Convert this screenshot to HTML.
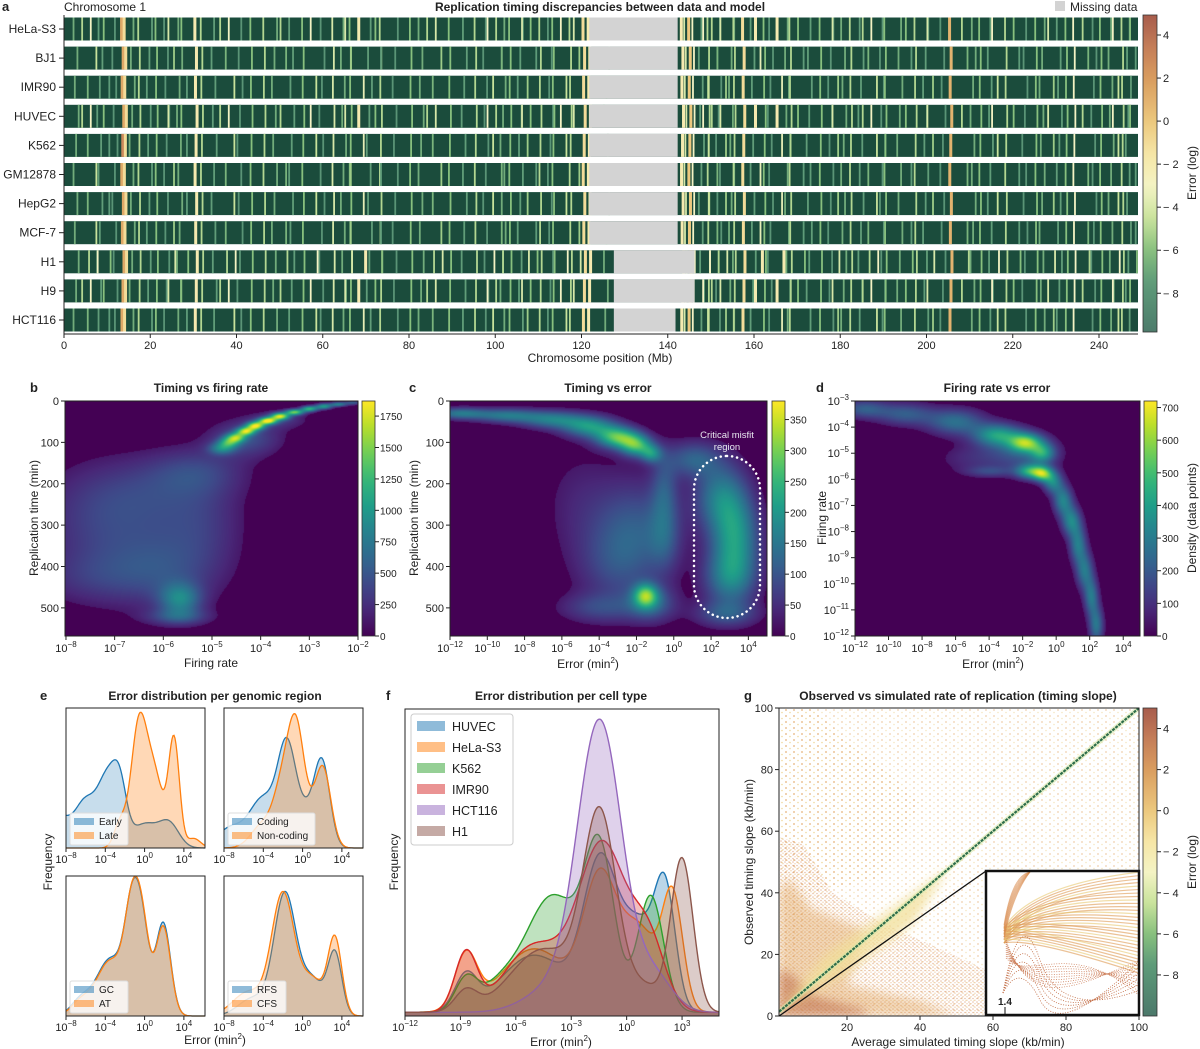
<!DOCTYPE html>
<html><head><meta charset="utf-8">
<style>
html,body{margin:0;padding:0;background:#fff;}
#wrap{position:relative;width:1200px;height:1049px;overflow:hidden;font-family:"Liberation Sans",Arial,sans-serif;}
canvas{position:absolute;z-index:0;}
#fig{position:absolute;left:0;top:0;z-index:1;}
text{font-family:"Liberation Sans",Arial,sans-serif;fill:#222;}
</style></head>
<body>
<div id="wrap">
<canvas id="hb" style="left:65px;top:401px" width="293" height="235"></canvas>
<canvas id="hc" style="left:450px;top:401px" width="317" height="235"></canvas>
<canvas id="hd" style="left:855px;top:401px" width="285" height="235"></canvas>
<svg id="fig" width="1200" height="1049" xmlns="http://www.w3.org/2000/svg"><defs id="defs"></defs></svg>
</div>
<script>
// ---------- DATA ----------
const rowNames=["HeLa-S3","BJ1","IMR90","HUVEC","K562","GM12878","HepG2","MCF-7","H1","H9","HCT116"];
const missingStart=[121.8,121.8,121.8,121.8,121.8,121.8,121.8,121.8,127.5,127.5,127.5];
const missingEnd=[142.3,142.3,142.3,142.3,142.3,142.3,142.3,142.3,146.2,146.2,141.8];
const hotspotMb=[13,13.6,17,21,30,31.5,43,46,55,62,66,73,80,89,95,103,110,113,117,120,121.2,142.8,143.6,144.5,145.5,149,155,157,162,168,175,182,190,197,205,212,218,225,232,233.8,240,245];
const hotspotErr=[1.5,-1,-5,-6,-2,-5,-6,-5,-6,-4,-6,-5,-6,-6,-5,-6,-5,-6,-5,-1,-2,-2,-4,0,-3,-5,-5,-1,-6,-5,-6,-5,-6,-5,1,-6,-5,-6,-6,-3,-6,-5];
const busyMb=[4,6,9,24,27,36,38,50,57,65,68,72,84,86,98,100,106,108,115,118,148,150,152,160,165,170,178,185,187,195,200,208,215,220,228,236,243,247];
const busyErr=[-5,-3,-6,-4,-6,-5,-3,-5,-3,-4,-2,-6,-5,-4,-3,-5,-4,-6,-3,-4,-3,-5,-4,-2,-2,-6,-4,-5,-3,-6,-4,-5,-3,-6,-4,-5,-3,-6];
const faintMb=[2,7.5,11,15,19,23,26,34,40,48,52,59,64,70,76,82,92,97,101,105,112,125,147,151,154,159,163,167,172,177,180,184,189,193,199,203,210,214,222,226,230,238,242,246];
const busyRows=[0,3,8,9];

const bTicksX=[-8,-7,-6,-5,-4,-3,-2];
const timeTicks=[0,100,200,300,400,500];
const bCbTicks=[0,250,500,750,1000,1250,1500,1750];
// blobs: [x(log), y, sx, sy, amp]
const bBlobs=[[-2.1,4,0.12,4,0.3],[-2.4,8,0.12,4,0.45],[-2.7,13,0.12,5,0.55],[-3,19,0.12,5,0.65],[-3.3,27,0.13,5,0.75],[-3.6,37,0.13,6,0.85],[-3.85,48,0.13,6,0.9],[-4.1,60,0.13,7,0.85],[-4.3,73,0.13,7,0.75],[-4.5,88,0.14,8,0.6],[-4.65,100,0.15,9,0.45],[-4.8,115,0.18,10,0.35],[-4.3,90,0.5,30,0.25],[-3.6,45,0.4,15,0.15],[-5.3,170,0.7,40,0.17],[-6.3,220,1,60,0.14],[-7.4,280,0.9,90,0.12],[-6.5,350,1.1,80,0.12],[-7.5,430,0.8,45,0.11],[-6,420,0.8,60,0.16],[-5.65,480,0.3,28,0.4],[-5.7,522,0.45,14,0.22],[-5.2,300,0.6,80,0.12]];
const cTicksX=[-12,-10,-8,-6,-4,-2,0,2,4];
const cCbTicks=[0,50,100,150,200,250,300,350];
const cBlobs=[[-11.5,30,1,10,0.4],[-9,35,1.2,12,0.4],[-6.5,45,1.2,15,0.42],[-4.5,62,1,18,0.5],[-3,88,0.8,18,0.7],[-2,108,0.6,18,0.62],[-1.2,128,0.4,15,0.4],[-0.5,210,0.5,60,0.22],[-0.5,330,0.6,60,0.2],[1,140,1,30,0.3],[2.5,230,1,60,0.4],[3.3,330,0.9,70,0.5],[3.0,430,1,50,0.38],[2.8,515,1.2,22,0.25],[-1.5,470,0.45,20,0.6],[-1.2,490,0.9,30,0.3],[-4,500,1.5,25,0.2],[-3,400,1.5,70,0.2],[-5,250,1.5,100,0.1],[-2,300,1.5,80,0.25]];
const dTicksY=[-3,-4,-5,-6,-7,-8,-9,-10,-11,-12];
const dCbTicks=[0,100,200,300,400,500,600,700];
const dBlobs=[[-11.5,-3.3,1,0.25,0.3],[-9,-3.5,1.2,0.3,0.3],[-6,-3.8,1.2,0.35,0.38],[-3.5,-4.3,1,0.3,0.55],[-1.8,-4.6,0.7,0.25,0.7],[-0.8,-5,0.5,0.25,0.45],[-4,-5.7,1,0.15,0.18],[-1.5,-5.7,0.6,0.2,0.6],[-0.8,-5.8,0.4,0.2,0.6],[-0.2,-6.1,0.4,0.3,0.45],[0.4,-6.8,0.4,0.4,0.45],[0.9,-7.6,0.4,0.4,0.45],[1.3,-8.5,0.35,0.5,0.42],[1.7,-9.5,0.35,0.5,0.4],[2.1,-10.5,0.3,0.5,0.4],[2.4,-11.6,0.3,0.5,0.4],[-2,-5,1.5,0.5,0.25],[-5,-5.2,1.5,0.4,0.12]];

const eLabels=[["Early","Late"],["Coding","Non-coding"],["GC","AT"],["RFS","CFS"]];
const eEarly=[[-9,1.5,0.5],[-6,1,0.6],[-3.8,1,1],[-2.5,0.7,0.7],[0,1.3,0.35],[2.5,1,0.35]];
const eLate=[[-0.6,0.8,1],[1.0,0.9,0.6],[3.0,0.55,0.9],[5,0.7,0.08],[-2.5,0.6,0.2]];
const eCoding=[[-1.6,0.9,1],[-4,1.5,0.55],[-7.5,1.2,0.2],[2,0.8,0.9],[0.3,1,0.35]];
const eNonCoding=[[-0.7,0.8,1],[-2,0.9,0.6],[-4,1.2,0.25],[2.1,0.8,0.8],[0.3,1,0.3]];
const eGC=[[-1.2,0.8,1],[-0.1,0.7,0.6],[1.9,0.75,0.9],[-3.5,1.4,0.55],[-6.5,1,0.15]];
const eAT=[[-1.2,0.8,1],[-0.1,0.7,0.62],[1.9,0.75,0.86],[-3.5,1.4,0.53],[-6.5,1,0.13]];
const eRFS=[[-1.8,1.1,1],[3.3,0.7,0.5],[1.0,1.2,0.3],[-5,1.5,0.15]];
const eCFS=[[-2.0,1.15,1],[3.3,0.7,0.62],[1.0,1.2,0.3],[-5.5,1.6,0.2]];
const ePeaks=[[0.63,0.97],[0.79,0.96],[0.99,1.0],[0.89,0.89]];
const eTicks=[-8,-4,0,4];

const fNames=["HUVEC","HeLa-S3","K562","IMR90","HCT116","H1"];
const fHUVEC=[[-8.7,0.6,0.18],[-5,1.8,0.3],[-1.45,0.9,0.75],[0.7,1,0.45],[2.1,0.55,0.55]];
const fHeLa=[[-8.7,0.6,0.3],[-5,1.8,0.35],[-1.45,0.9,0.7],[0.7,1,0.45],[2.5,0.55,0.6]];
const fK562=[[-8.7,0.6,0.15],[-4,1.5,0.55],[-1.45,0.8,0.7],[1.3,0.7,0.55],[-7,1,0.1]];
const fIMR90=[[-8.7,0.6,0.35],[-5,1.6,0.4],[-1.3,1.3,1],[1.2,0.9,0.4]];
const fHCT116=[[-1.45,1.2,1],[-4,1.5,0.08],[1.5,1,0.12]];
const fH1=[[-1.45,0.9,0.75],[-4.5,1.8,0.25],[-8.7,0.6,0.08],[3.0,0.6,0.6],[1,1,0.1]];
const fPeaks=[0.52,0.47,0.58,0.56,0.955,0.67];
const fTicks=[-12,-9,-6,-3,0,3];

const gTicks=[20,40,60,80,100];
const gYTicks=[0,20,40,60,80,100];
const gDiagX=[1.4,10,20,30,40,50,60,70,80,90,100];
const errCbTicks=[4,2,0,-2,-4,-6,-8];

// ---------- HELPERS ----------
const NS='http://www.w3.org/2000/svg';
const svg=document.getElementById('fig');
const defs=document.getElementById('defs');
function mk(tag,attrs,parent){const e=document.createElementNS(NS,tag);for(const k in attrs)e.setAttribute(k,attrs[k]);(parent||svg).appendChild(e);return e;}
function txt(x,y,s,attrs,parent){const e=mk('text',Object.assign({x:x,y:y,'font-size':11},attrs||{}),parent);e.textContent=s;return e;}
function pow10(x,y,ex,anchor,parent){const e=mk('text',{x:x,y:y,'font-size':11,'text-anchor':anchor||'middle'},parent);e.appendChild(document.createTextNode('10'));const t=mk('tspan',{dy:-5,'font-size':8},e);t.textContent=(ex<0?'\u2212':'')+Math.abs(ex);return e;}
function hex(c){return [parseInt(c.slice(1,3),16),parseInt(c.slice(3,5),16),parseInt(c.slice(5,7),16)];}
const VIR=["#440154","#482878","#3e4989","#31688e","#26828e","#1f9e89","#35b779","#6ece58","#b5de2b","#fde725"].map(hex);
function viridis(t){t=Math.max(0,Math.min(1,t));const p=t*(VIR.length-1);const i=Math.min(VIR.length-2,Math.floor(p));const f=p-i;return VIR[i].map((v,k)=>Math.round(v+(VIR[i+1][k]-v)*f));}
const ERRV=[5,3.5,2,0,-1.5,-3,-4.5,-6,-7.5,-10];
const ERRC=["#a85c4c","#c47d58","#d99d5f","#ecc87e","#f6e6a6","#f4f3c4","#c9e39c","#88c07e","#5e9b79","#4b786a"].map(hex);
function errColor(v){v=Math.max(-10,Math.min(5,v));for(let i=0;i<ERRV.length-1;i++){if(v<=ERRV[i]&&v>=ERRV[i+1]){const f=(ERRV[i]-v)/(ERRV[i]-ERRV[i+1]);const c=ERRC[i].map((a,k)=>Math.round(a+(ERRC[i+1][k]-a)*f));return 'rgb('+c.join(',')+')';}}return 'rgb(75,120,106)';}
function grad(id,colorFn,n){const g=mk('linearGradient',{id:id,x1:0,y1:1,x2:0,y2:0},defs);for(let i=0;i<=n;i++){mk('stop',{offset:i/n,'stop-color':colorFn(i/n)},g);}}
function kde(x,comps){let s=0;for(const c of comps)s+=c[2]*Math.exp(-0.5*Math.pow((x-c[0])/c[1],2));return s;}
function kdeMax(comps,a,b){let m=0;for(let v=a;v<=b;v+=0.02)m=Math.max(m,kde(v,comps));return m;}

grad('gvir',t=>'rgb('+viridis(t).join(',')+')',20);
grad('gerrA',t=>errColor(-9.8+t*14.8),30);
grad('gerrG',t=>errColor(-10+t*15),30);

// ---------- PANEL A ----------
const gA=mk('g',{});


const aX=mb=>64+mb*4.3125;
txt(2,11,'a',{'font-weight':'bold','font-size':13},gA);
txt(64,11,'Chromosome 1',{'font-size':12},gA);
txt(600,11,'Replication timing discrepancies between data and model',{'font-weight':'bold','font-size':12,'text-anchor':'middle'},gA);
const ml=mk('rect',{x:1055,y:1,width:10,height:10,fill:'#d3d3d3'},gA);


txt(1070,11,'Missing data',{'font-size':12},gA);
rowNames.forEach((name,i)=>{
  const cy=29+i*29.1;
  const rg=mk('g',{},gA);
  
  
  mk('rect',{x:64,y:cy-11.5,width:1074,height:23,fill:'#1b4c3c'},rg);
  const spots=[];
  faintMb.forEach((m,k)=>spots.push([m+((i*0.9+k*0.3)%1.5),-6.8-(k%3)*0.6]));
  hotspotMb.forEach((m,k)=>spots.push([m+((i*0.37)%0.6),hotspotErr[k]+(i===4&&k===0?1.5:0)]));
  if(busyRows.includes(i)) busyMb.forEach((m,k)=>spots.push([m+(i%3)*0.8,busyErr[k]]));
  else busyMb.forEach((m,k)=>{if(k%2===i%2)spots.push([m+1.3,busyErr[k]-1.5]);});
  spots.forEach(s=>{
    const r=mk('rect',{x:aX(s[0]),y:cy-11.5,width:s[1]>-3?3:1.8,height:23,fill:errColor(s[1])},rg);
    
    
  });
  const gm=mk('rect',{x:aX(missingStart[i]),y:cy-11.5,width:aX(missingEnd[i])-aX(missingStart[i]),height:23,fill:'#d3d3d3'},rg);
  
  
  mk('line',{x1:59,x2:64,y1:cy,y2:cy,stroke:'#222'},gA);
  const lb=txt(56,cy+4,name,{'text-anchor':'end','font-size':12},gA);
  
  
});
mk('line',{x1:64,x2:64,y1:15,y2:334,stroke:'#222'},gA);
mk('line',{x1:64,x2:1138,y1:334,y2:334,stroke:'#222'},gA);
for(let mb=0;mb<=240;mb+=20){mk('line',{x1:aX(mb),x2:aX(mb),y1:334,y2:338,stroke:'#222'},gA);const t=txt(aX(mb),349,String(mb),{'text-anchor':'middle'},gA);}
txt(600,362,'Chromosome position (Mb)',{'text-anchor':'middle','font-size':12},gA);
function errColorbar(x,y0,y1,gid,parent,name,top,bot){
  const cb=mk('rect',{x:x,y:y0,width:14,height:y1-y0,fill:'url(#'+gid+')',stroke:'#333','stroke-width':0.8},parent);
  
  
  const sc=(y1-y0)/(top-bot);
  errCbTicks.forEach(v=>{const yy=y0+(top-v)*sc;mk('line',{x1:x+14,x2:x+18,y1:yy,y2:yy,stroke:'#222'},parent);txt(x+20,yy+4,(v<0?'\u2212 ':'')+Math.abs(v),{},parent);});
}
errColorbar(1143,15,332,'gerrA',gA,'error-colorbar',4.93,-9.8);
txt(0,0,'Error (log)',{'font-size':12,'text-anchor':'middle',transform:'translate(1196,173) rotate(-90)'},gA);

// ---------- HEATMAPS ----------
function heat(id,blobs,xmin,xmax,ymin,ymax){
  const cv=document.getElementById(id),ctx=cv.getContext('2d');const W=cv.width,H=cv.height;
  const img=ctx.createImageData(W,H);
  for(let py=0;py<H;py++){const dy=ymin+(ymax-ymin)*(py+0.5)/H;
    for(let px=0;px<W;px++){const dx=xmin+(xmax-xmin)*(px+0.5)/W;let s=0;
      for(const b of blobs){const u=(dx-b[0])/b[2],v=(dy-b[1])/b[3];const q=u*u+v*v;if(q<18)s+=b[4]*Math.exp(-0.5*q);}
      let t=s<0.07?0:Math.min(1,s*0.95);const c=viridis(t);const o=(py*W+px)*4;img.data[o]=c[0];img.data[o+1]=c[1];img.data[o+2]=c[2];img.data[o+3]=255;}}
  ctx.putImageData(img,0,0);
}
heat('hb',bBlobs,-8.02,-2,0,568);
heat('hc',cBlobs,-12,5,0,568);
heat('hd',dBlobs,-12,5,-3,-12);

function frame(x,y,w,h,parent,name){const r=mk('rect',{x:x,y:y,width:w,height:h,fill:'none',stroke:'#222','stroke-width':1},parent);return r;}
function vcb(x,y0,y1,max,ticks,parent,name){
  const r=mk('rect',{x:x,y:y0,width:13,height:y1-y0,fill:'url(#gvir)',stroke:'#333','stroke-width':0.8},parent);
  
  
  ticks.forEach(v=>{const yy=y1-(v/max)*(y1-y0);mk('line',{x1:x+13,x2:x+17,y1:yy,y2:yy,stroke:'#222'},parent);txt(x+18,yy+4,String(v),{'font-size':10},parent);});
}
// panel b
const gB=mk('g',{});


const bx=v=>65+(v+8.02)/6.02*293, ty=v=>401+v/568*235;
txt(30,392,'b',{'font-weight':'bold','font-size':13},gB);
txt(211,392,'Timing vs firing rate',{'font-weight':'bold','font-size':12,'text-anchor':'middle'},gB);
frame(65,401,293,235,gB,'plot-area-b');
bTicksX.forEach(v=>{mk('line',{x1:bx(v),x2:bx(v),y1:636,y2:640,stroke:'#222'},gB);pow10(bx(v),652,v,'middle',gB);});
timeTicks.forEach(v=>{mk('line',{x1:61,x2:65,y1:ty(v),y2:ty(v),stroke:'#222'},gB);txt(59,ty(v)+4,String(v),{'text-anchor':'end'},gB);});
txt(211,667,'Firing rate',{'text-anchor':'middle','font-size':12},gB);
txt(0,0,'Replication time (min)',{'font-size':12,'text-anchor':'middle',transform:'translate(38,518) rotate(-90)'},gB);
vcb(362,401,636,1870,bCbTicks,gB,'density-colorbar-b');
// panel c
const gC=mk('g',{});


const cx=v=>450+(v+12)/17*317;
txt(409,392,'c',{'font-weight':'bold','font-size':13},gC);
txt(608,392,'Timing vs error',{'font-weight':'bold','font-size':12,'text-anchor':'middle'},gC);
frame(450,401,317,235,gC,'plot-area-c');
cTicksX.forEach(v=>{mk('line',{x1:cx(v),x2:cx(v),y1:636,y2:640,stroke:'#222'},gC);pow10(cx(v),652,v,'middle',gC);});
timeTicks.forEach(v=>{mk('line',{x1:446,x2:450,y1:ty(v),y2:ty(v),stroke:'#222'},gC);txt(444,ty(v)+4,String(v),{'text-anchor':'end'},gC);});
const cxl=txt(588,668,'Error (min',{'text-anchor':'middle','font-size':12},gC);const cs=mk('tspan',{dy:-5,'font-size':8},cxl);cs.textContent='2';const cs2=mk('tspan',{dy:5},cxl);cs2.textContent=')';
txt(0,0,'Replication time (min)',{'font-size':12,'text-anchor':'middle',transform:'translate(418,518) rotate(-90)'},gC);
const crit=mk('rect',{x:694,y:456,width:66,height:162,rx:33,ry:33,fill:'none',stroke:'#fff','stroke-width':2.5,'stroke-dasharray':'0.1 5','stroke-linecap':'round'},gC);


txt(727,438,'Critical misfit',{'text-anchor':'middle','font-size':9.5,style:'fill:#e8e8f0'},gC);
txt(727,450,'region',{'text-anchor':'middle','font-size':9.5,style:'fill:#e8e8f0'},gC);
vcb(772,401,636,380,cCbTicks,gC,'density-colorbar-c');
// panel d
const gD=mk('g',{});


const dx=v=>855+(v+12)/17*285, dy=v=>401+(-3-v)/9*235;
txt(816,392,'d',{'font-weight':'bold','font-size':13},gD);
txt(997,392,'Firing rate vs error',{'font-weight':'bold','font-size':12,'text-anchor':'middle'},gD);
frame(855,401,285,235,gD,'plot-area-d');
cTicksX.forEach(v=>{mk('line',{x1:dx(v),x2:dx(v),y1:636,y2:640,stroke:'#222'},gD);pow10(dx(v),652,v,'middle',gD);});
dTicksY.forEach(v=>{mk('line',{x1:851,x2:855,y1:dy(v),y2:dy(v),stroke:'#222'},gD);pow10(849,dy(v)+4,v,'end',gD);});
const dxl=txt(993,668,'Error (min',{'text-anchor':'middle','font-size':12},gD);const ds=mk('tspan',{dy:-5,'font-size':8},dxl);ds.textContent='2';const ds2=mk('tspan',{dy:5},dxl);ds2.textContent=')';
txt(0,0,'Firing rate',{'font-size':12,'text-anchor':'middle',transform:'translate(826,518) rotate(-90)'},gD);
vcb(1144,401,636,720,dCbTicks,gD,'density-colorbar-d');
txt(0,0,'Density (data points)',{'font-size':12,'text-anchor':'middle',transform:'translate(1196,518) rotate(-90)'},gD);

// ---------- PANEL E ----------
const gE=mk('g',{});


txt(40,700,'e',{'font-weight':'bold','font-size':13},gE);
txt(215,700,'Error distribution per genomic region',{'font-weight':'bold','font-size':12,'text-anchor':'middle'},gE);
const eBoxes=[[66,708],[224,708],[66,876],[224,876]];
const eSeries=[[eEarly,eLate],[eCoding,eNonCoding],[eGC,eAT],[eRFS,eCFS]];
const eCol=['#1f77b4','#ff7f0e'];
eBoxes.forEach((b,i)=>{
  const W=139,H=140;const ex=v=>b[0]+(v+8)/14.15*W;
  const sg=mk('g',{},gE);
  
  
  const ref=Math.max(...eSeries[i].map(c=>kdeMax(c,-8,6.15)));
  eSeries[i].forEach((comps,k)=>{
    const m=kdeMax(comps,-8,6.15);const sc=ePeaks[i][k]/m;
    let d='M'+b[0]+','+(b[1]+H);let line='';
    for(let px=0;px<=W;px++){const v=-8+px/W*14.15;const yy=b[1]+H-Math.min(1,kde(v,comps)*sc)*H;d+=' L'+(b[0]+px)+','+yy.toFixed(1);line+=(px?' L':'M')+(b[0]+px)+','+yy.toFixed(1);}
    d+=' L'+(b[0]+W)+','+(b[1]+H)+' Z';
    const a=mk('path',{d:d,fill:eCol[k],'fill-opacity':k?0.3:0.25,stroke:'none'},sg);
    
    
    mk('path',{d:line,fill:'none',stroke:eCol[k],'stroke-width':1.3},sg);
  });
  frame(b[0],b[1],W,H,sg,'subplot-frame');
  eTicks.forEach(v=>{mk('line',{x1:ex(v),x2:ex(v),y1:b[1]+H,y2:b[1]+H+4,stroke:'#222'},sg);pow10(ex(v),b[1]+H+15,v,'middle',sg);});
  const ly=b[1]+H-35;
  const lg=mk('g',{},sg);
  
  
  const lw=eLabels[i][1].length>5?87:58;
  mk('rect',{x:b[0]+4,y:ly,width:lw,height:32,rx:2,fill:'#fff','fill-opacity':0.8,stroke:'#ddd'},lg);
  eLabels[i].forEach((lab,k)=>{mk('rect',{x:b[0]+8,y:ly+5+k*14,width:20,height:7,fill:eCol[k],'fill-opacity':0.5},lg);txt(b[0]+33,ly+12+k*14,lab,{'font-size':10},lg);});
});
txt(0,0,'Frequency',{'font-size':12,'text-anchor':'middle',transform:'translate(52,862) rotate(-90)'},gE);
const exl=txt(215,1044,'Error (min',{'text-anchor':'middle','font-size':12},gE);const es=mk('tspan',{dy:-5,'font-size':8},exl);es.textContent='2';const es2=mk('tspan',{dy:5},exl);es2.textContent=')';

// ---------- PANEL F ----------
const gF=mk('g',{});


txt(386,700,'f',{'font-weight':'bold','font-size':13},gF);
txt(561,700,'Error distribution per cell type',{'font-weight':'bold','font-size':12,'text-anchor':'middle'},gF);
const fX0=405,fW=314,fY0=709,fH=307;const fx=v=>fX0+(v+12)/17*fW;
const fSeries=[fHUVEC,fHeLa,fK562,fIMR90,fHCT116,fH1];
const fCol=['#1f77b4','#ff7f0e','#2ca02c','#d62728','#9467bd','#8c564b'];
fSeries.forEach((comps,k)=>{
  const sc=fPeaks[k]/kdeMax(comps,-12,5);
  let d='M'+fX0+','+(fY0+fH);let line='';
  for(let px=0;px<=fW;px++){const v=-12+px/fW*17;const yy=fY0+fH-Math.min(1,kde(v,comps)*sc+0.012)*fH;d+=' L'+(fX0+px)+','+yy.toFixed(1);line+=(px?' L':'M')+(fX0+px)+','+yy.toFixed(1);}
  d+=' L'+(fX0+fW)+','+(fY0+fH)+' Z';
  const a=mk('path',{d:d,fill:fCol[k],'fill-opacity':0.3},gF);
  
  
  mk('path',{d:line,fill:'none',stroke:fCol[k],'stroke-width':1.4},gF);
});
frame(fX0,fY0,fW,fH,gF,'plot-area-f');
fTicks.forEach(v=>{mk('line',{x1:fx(v),x2:fx(v),y1:1016,y2:1020,stroke:'#222'},gF);pow10(fx(v),1031,v,'middle',gF);});
txt(0,0,'Frequency',{'font-size':12,'text-anchor':'middle',transform:'translate(398,862) rotate(-90)'},gF);
const fxl=txt(561,1046,'Error (min',{'text-anchor':'middle','font-size':12},gF);const fs=mk('tspan',{dy:-5,'font-size':8},fxl);fs.textContent='2';const fs2=mk('tspan',{dy:5},fxl);fs2.textContent=')';
const fl=mk('g',{},gF);


mk('rect',{x:411,y:714,width:102,height:131,rx:3,fill:'#fff','fill-opacity':0.85,stroke:'#ccc'},fl);
fNames.forEach((n,k)=>{const yy=721+k*21;const p=mk('rect',{x:417,y:yy,width:28,height:10,fill:fCol[k],'fill-opacity':0.5},fl);txt(452,yy+10,n,{'font-size':12.5},fl);});

// ---------- PANEL G ----------
const gG=mk('g',{});


const gx=v=>779+(v-1.37)/(100-1.37)*360, gy=v=>1016-v/100*308;
txt(744,700,'g',{'font-weight':'bold','font-size':13},gG);
txt(958,700,'Observed vs simulated rate of replication (timing slope)',{'font-weight':'bold','font-size':12,'text-anchor':'middle'},gG);
const cpg=mk('clipPath',{id:'clipg'},defs);mk('rect',{x:779,y:708,width:360,height:308},cpg);
const blur=mk('filter',{id:'blur6',x:'-20%',y:'-20%',width:'140%',height:'140%'},defs);mk('feGaussianBlur',{stdDeviation:5},blur);
const pat=mk('pattern',{id:'speck',width:8,height:6,patternUnits:'userSpaceOnUse'},defs);
mk('circle',{cx:2,cy:2,r:0.9,fill:'#e0a05a'},pat);mk('circle',{cx:6,cy:4.5,r:0.8,fill:'#eccf85'},pat);
const pat2=mk('pattern',{id:'speck2',width:4,height:3.5,patternUnits:'userSpaceOnUse'},defs);
mk('circle',{cx:1,cy:1,r:0.8,fill:'#c9703f'},pat2);mk('circle',{cx:3,cy:2.7,r:0.7,fill:'#dd9550'},pat2);
const cg=mk('g',{'clip-path':'url(#clipg)'},gG);
mk('rect',{x:779,y:708,width:360,height:308,fill:'url(#speck)','fill-opacity':0.5},cg);
mk('polygon',{points:[[1.4,0],[1.4,100],[10,100],[40,70],[30,45],[10,40]].map(p=>gx(p[0])+','+gy(p[1])).join(' '),fill:'url(#speck)','fill-opacity':0.5},cg);
const sc1=mk('polygon',{points:[[1.4,0],[1.4,58],[8,56],[16,40],[30,30],[60,14],[60,0]].map(p=>gx(p[0])+','+gy(p[1])).join(' '),fill:'url(#speck2)','fill-opacity':0.45},cg);


mk('polygon',{points:[[1.4,0],[1.4,40],[4,45],[10,35],[25,28],[20,10],[40,5],[50,0]].map(p=>gx(p[0])+','+gy(p[1])).join(' '),fill:'#e0a560','fill-opacity':0.45,filter:'url(#blur6)'},cg);
mk('polygon',{points:[[1.4,0],[1.4,15],[4,14],[12,6],[25,2],[25,0]].map(p=>gx(p[0])+','+gy(p[1])).join(' '),fill:'#b8603c','fill-opacity':0.5,filter:'url(#blur6)'},cg);
mk('polygon',{points:[[2,2],[14,20],[30,33],[48,48],[38,30],[20,14]].map(p=>gx(p[0])+','+gy(p[1])).join(' '),fill:'#f1df9a','fill-opacity':0.75,filter:'url(#blur6)'},cg);
const diagPts=gDiagX.map(v=>gx(v)+','+gy(v)).join(' ');
mk('polyline',{points:diagPts,fill:'none',stroke:'#d7e8a8','stroke-width':5,'stroke-opacity':0.6},cg);
const dl=mk('polyline',{points:diagPts,fill:'none',stroke:'#2e6e4c','stroke-width':2.2,'stroke-dasharray':'3 1'},cg);


frame(779,708,360,308,gG,'plot-area-g');
// inset
mk('line',{x1:gx(1.4),y1:gy(0),x2:986,y2:871,stroke:'#111','stroke-width':1.3},gG);
const ig=mk('g',{},gG);


mk('rect',{x:986,y:871,width:153,height:144,fill:'#fff'},ig);
const cpi=mk('clipPath',{id:'clipi'},defs);mk('rect',{x:987,y:872,width:151,height:142},cpi);
const icg=mk('g',{'clip-path':'url(#clipi)'},ig);
for(let k=0;k<30;k++){const y2=872+k*3.5;mk('path',{d:'M1004,'+(928+(k%6)*3)+' Q1030,'+(885+k*1.8)+' 1140,'+y2,fill:'none',stroke:k%4?'#dd9a52':'#e8c872','stroke-width':1.2,'stroke-opacity':0.6},icg);}
for(let k=0;k<8;k++){mk('path',{d:'M1004,'+(925+k*2)+' Q1012,'+(875+k*3)+' 1030,872',fill:'none',stroke:'#d98a4d','stroke-width':0.9,'stroke-opacity':0.6},icg);}
for(let k=0;k<10;k++){mk('path',{d:'M1006,'+(940+k*2)+' C1030,'+(1010-k*3)+' 1070,'+(990-k*6)+' 1140,'+(960+k*4),fill:'none',stroke:'#c9754d','stroke-width':0.7,'stroke-dasharray':'1 1.5'},icg);}
for(let k=0;k<6;k++){mk('path',{d:'M1003,993 Q1020,'+(900+k*12)+' 1040,'+(960+k*8)+' T1140,'+(990-k*6),fill:'none',stroke:'#c0683f','stroke-width':0.8,'stroke-dasharray':'1 1.5'},icg);}
mk('rect',{x:986,y:871,width:153,height:144,fill:'none',stroke:'#111','stroke-width':2.5},ig);
mk('line',{x1:1005,x2:1005,y1:1007,y2:1014,stroke:'#111'},ig);
txt(998,1005,'1.4',{'font-weight':'bold','font-size':10},ig);
gTicks.forEach(v=>{mk('line',{x1:gx(v),x2:gx(v),y1:1016,y2:1020,stroke:'#222'},gG);txt(gx(v),1031,String(v),{'text-anchor':'middle'},gG);});
gYTicks.forEach(v=>{mk('line',{x1:775,x2:779,y1:gy(v),y2:gy(v),stroke:'#222'},gG);txt(773,gy(v)+4,String(v),{'text-anchor':'end'},gG);});
txt(958,1046,'Average simulated timing slope (kb/min)',{'text-anchor':'middle','font-size':12},gG);
txt(0,0,'Observed timing slope (kb/min)',{'font-size':12,'text-anchor':'middle',transform:'translate(753,862) rotate(-90)'},gG);
errColorbar(1143,708,1016,'gerrG',gG,'error-colorbar-g',5,-10);
txt(0,0,'Error (log)',{'font-size':12,'text-anchor':'middle',transform:'translate(1196,862) rotate(-90)'},gG);
</script>
</body></html>
